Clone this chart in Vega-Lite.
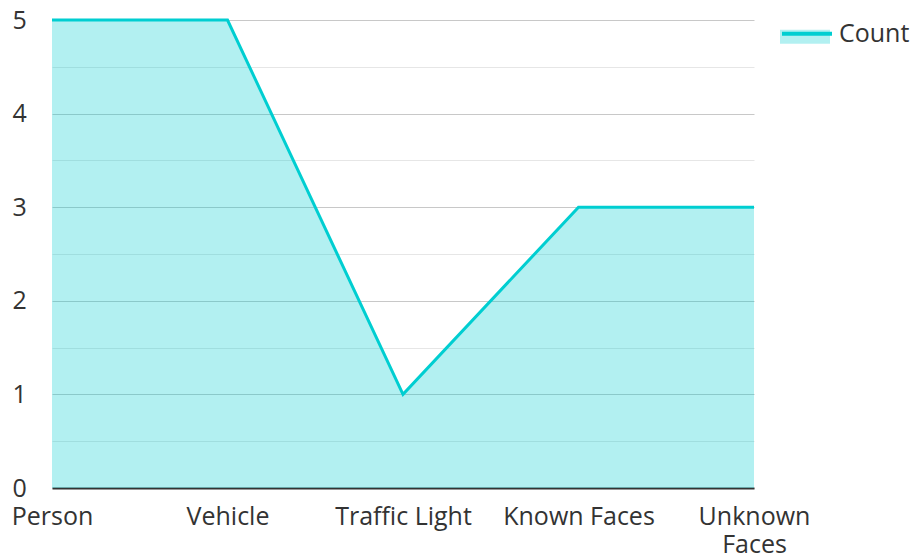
{
  "$schema": "https://vega.github.io/schema/vega-lite/v6.json",
  "autosize": "none",
  "width": 702,
  "height": 468,
  "padding": {"left": 52, "top": 20, "right": 158, "bottom": 72},
  "background": "white",
  "config": {
    "font": "Open Sans",
    "view": {"stroke": null}
  },
  "data": {
    "values": [
      {"category": "Person", "count": 5},
      {"category": "Vehicle", "count": 5},
      {"category": "Traffic Light", "count": 1},
      {"category": "Known Faces", "count": 3},
      {"category": "Unknown Faces", "count": 3}
    ]
  },
  "encoding": {
    "x": {
      "field": "category",
      "type": "ordinal",
      "sort": null,
      "scale": {"type": "point", "padding": 0},
      "axis": {
        "title": null,
        "labelAngle": 0,
        "labelFontSize": 25,
        "labelColor": "#333333",
        "labelPadding": 16,
        "labelLineHeight": 28,
        "labelExpr": "datum.label == 'Unknown Faces' ? ['Unknown', 'Faces'] : datum.label",
        "domainColor": "#333333",
        "domainWidth": 2,
        "ticks": false,
        "tickSize": 0,
        "grid": false
      }
    },
    "y": {
      "field": "count",
      "type": "quantitative",
      "scale": {"domain": [0, 5], "nice": false},
      "axis": {
        "title": null,
        "values": [0, 0.5, 1, 1.5, 2, 2.5, 3, 3.5, 4, 4.5, 5],
        "format": "~g",
        "labelExpr": "datum.value % 1 === 0 ? datum.label : ''",
        "labelFontSize": 25,
        "labelColor": "#333333",
        "labelAlign": "left",
        "labelPadding": 40,
        "ticks": false,
        "tickSize": 0,
        "domain": false,
        "grid": true,
        "gridColor": {"expr": "datum.value % 1 === 0 ? '#c8c8c8' : '#e6e6e6'"},
        "gridWidth": 1
      }
    }
  },
  "layer": [
    {
      "mark": {"type": "area", "fillOpacity": 0.3},
      "encoding": {
        "fill": {
          "datum": "Fill",
          "scale": {"range": ["#00CED1"]},
          "legend": {
            "orient": "none",
            "legendX": 728,
            "legendY": -13,
            "title": null,
            "symbolType": "M-1,-0.09H1V0.47H-1Z",
            "symbolSize": 2500,
            "symbolStrokeWidth": 0,
            "symbolOpacity": 0.3,
            "labelExpr": "''",
            "labelFontSize": 25
          }
        }
      }
    },
    {
      "mark": {"type": "line", "strokeWidth": 3, "color": "#00CED1"},
      "encoding": {
        "stroke": {
          "datum": "Count",
          "scale": {"range": ["#00CED1"]},
          "legend": {
            "orient": "none",
            "legendX": 728,
            "legendY": -13,
            "title": null,
            "symbolType": "M-1,-0.01H1",
            "symbolSize": 2500,
            "symbolStrokeWidth": 4,
            "labelFontSize": 25,
            "labelColor": "#333333",
            "labelOffset": 5,
            "labelBaseline": "middle",
            "labelLimit": 200
          }
        }
      }
    }
  ]
}
